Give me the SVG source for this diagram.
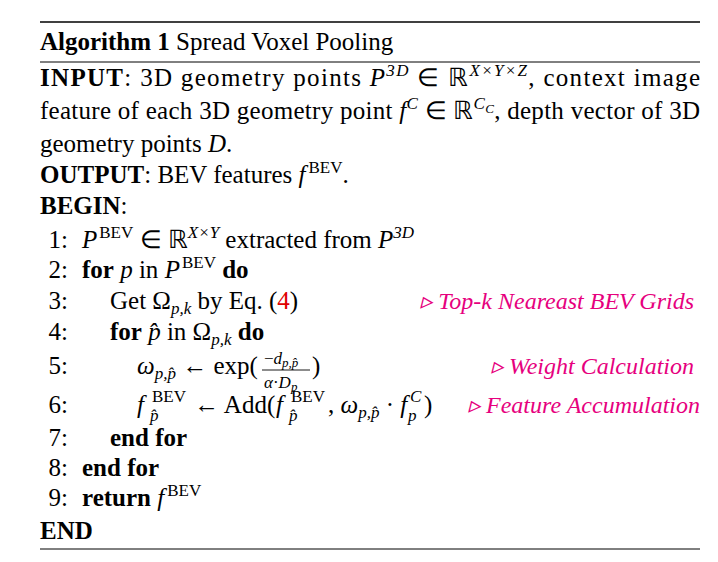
<svg xmlns="http://www.w3.org/2000/svg" width="718" height="562" viewBox="0 0 718 562">
<style>
text{font-family:"Liberation Serif",serif;font-size:25px;fill:#000}
.b{font-weight:bold}
.i{font-style:italic}
.s{font-size:17px}
.t{font-size:13px}
.n{text-anchor:end}
.c{fill:#e6007e;font-style:italic;font-size:24px}
.r{fill:#e00000}
</style>
<rect width="718" height="562" fill="#fff"/>
<line x1="40" y1="22" x2="700" y2="22" stroke="#000" stroke-width="1.5"/>
<line x1="40" y1="62" x2="700" y2="62" stroke="#000" stroke-width="1"/>
<line x1="40" y1="549" x2="700" y2="549" stroke="#000" stroke-width="1"/>
<text x="40" y="50" font-size="26"><tspan class="b">Algorithm 1</tspan> Spread Voxel Pooling</text>
<text x="40" y="86" textLength="660" lengthAdjust="spacing"><tspan class="b">INPUT</tspan>: 3D geometry points <tspan class="i">P</tspan><tspan class="s i" dy="-10">3D</tspan><tspan dy="10"> ∈ ℝ</tspan><tspan class="s i" dy="-10">X×Y×Z</tspan><tspan dy="10">, context image</tspan></text>
<text x="40" y="119" textLength="660" lengthAdjust="spacing">feature of each 3D geometry point <tspan class="i">f</tspan><tspan class="s i" dy="-10">C</tspan><tspan dy="10"> ∈ ℝ</tspan><tspan class="s i" dy="-10">C</tspan><tspan class="t i" dy="4">C</tspan><tspan dy="6">, depth vector of 3D</tspan></text>
<text x="40" y="152">geometry points <tspan class="i">D</tspan>.</text>
<text x="40" y="183"><tspan class="b">OUTPUT</tspan>: BEV features <tspan class="i">f</tspan><tspan class="s" dx="3" dy="-10">BEV</tspan><tspan dy="10">.</tspan></text>
<text x="40" y="214"><tspan class="b">BEGIN</tspan>:</text>
<text x="68" y="248" class="n">1:</text>
<text x="82" y="248"><tspan class="i">P</tspan><tspan class="s" dx="2" dy="-10">BEV</tspan><tspan dy="10"> ∈ ℝ</tspan><tspan class="s i" dy="-10">X×Y</tspan><tspan dy="10"> extracted from </tspan><tspan class="i">P</tspan><tspan class="s i" dy="-10">3D</tspan></text>
<text x="68" y="278" class="n">2:</text>
<text x="82" y="278"><tspan class="b">for</tspan> <tspan class="i">p</tspan> in <tspan class="i">P</tspan><tspan class="s" dx="2" dy="-10">BEV</tspan><tspan dy="10" class="b"> do</tspan></text>
<text x="68" y="309" class="n">3:</text>
<text x="110" y="309">Get Ω<tspan class="s i" dy="5">p,k</tspan><tspan dy="-5"> by Eq. (</tspan><tspan class="r">4</tspan>)</text>
<text x="694" y="309" class="n c">▹ Top-k Neareast BEV Grids</text>
<text x="68" y="340" class="n">4:</text>
<text x="110" y="340"><tspan class="b">for</tspan> <tspan class="i">p̂</tspan> in Ω<tspan class="s i" dy="5">p,k</tspan><tspan dy="-5" class="b">  do</tspan></text>
<text x="68" y="374" class="n">5:</text>
<text x="137" y="374"><tspan class="i">ω</tspan><tspan class="s i" dy="5">p,p̂</tspan><tspan dy="-5"> ← exp(</tspan></text>
<text x="264" y="364" class="s">−<tspan class="i">d</tspan><tspan class="t i" dy="3">p,p̂</tspan></text>
<line x1="262" y1="370" x2="310" y2="370" stroke="#000" stroke-width="0.9"/>
<text x="264" y="388" class="s"><tspan class="i">α</tspan>·<tspan class="i">D</tspan><tspan class="t i" dy="3">p</tspan></text>
<text x="312" y="374">)</text>
<text x="694" y="374" class="n c">▹ Weight Calculation</text>
<text x="68" y="413" class="n">6:</text>
<text x="137" y="413" class="i">f</text>
<text x="152" y="402" class="s">BEV</text>
<text x="150" y="421" class="s i">p̂</text>
<text x="194" y="413">← Add(</text>
<text x="276" y="413" class="i">f</text>
<text x="291" y="402" class="s">BEV</text>
<text x="289" y="421" class="s i">p̂</text>
<text x="328" y="413">, <tspan class="i">ω</tspan><tspan class="s i" dy="5">p,p̂</tspan><tspan dy="-5"> · </tspan><tspan class="i">f</tspan></text>
<text x="410" y="402" class="s i">C</text>
<text x="408" y="421" class="s i">p</text>
<text x="424" y="413">)</text>
<text x="700" y="413" class="n c">▹ Feature Accumulation</text>
<text x="68" y="446" class="n">7:</text>
<text x="110" y="446" class="b">end for</text>
<text x="68" y="476" class="n">8:</text>
<text x="82" y="476" class="b">end for</text>
<text x="68" y="506" class="n">9:</text>
<text x="82" y="506"><tspan class="b">return</tspan>  <tspan class="i">f</tspan><tspan class="s" dx="3" dy="-10">BEV</tspan></text>
<text x="40" y="539" class="b">END</text>
</svg>
